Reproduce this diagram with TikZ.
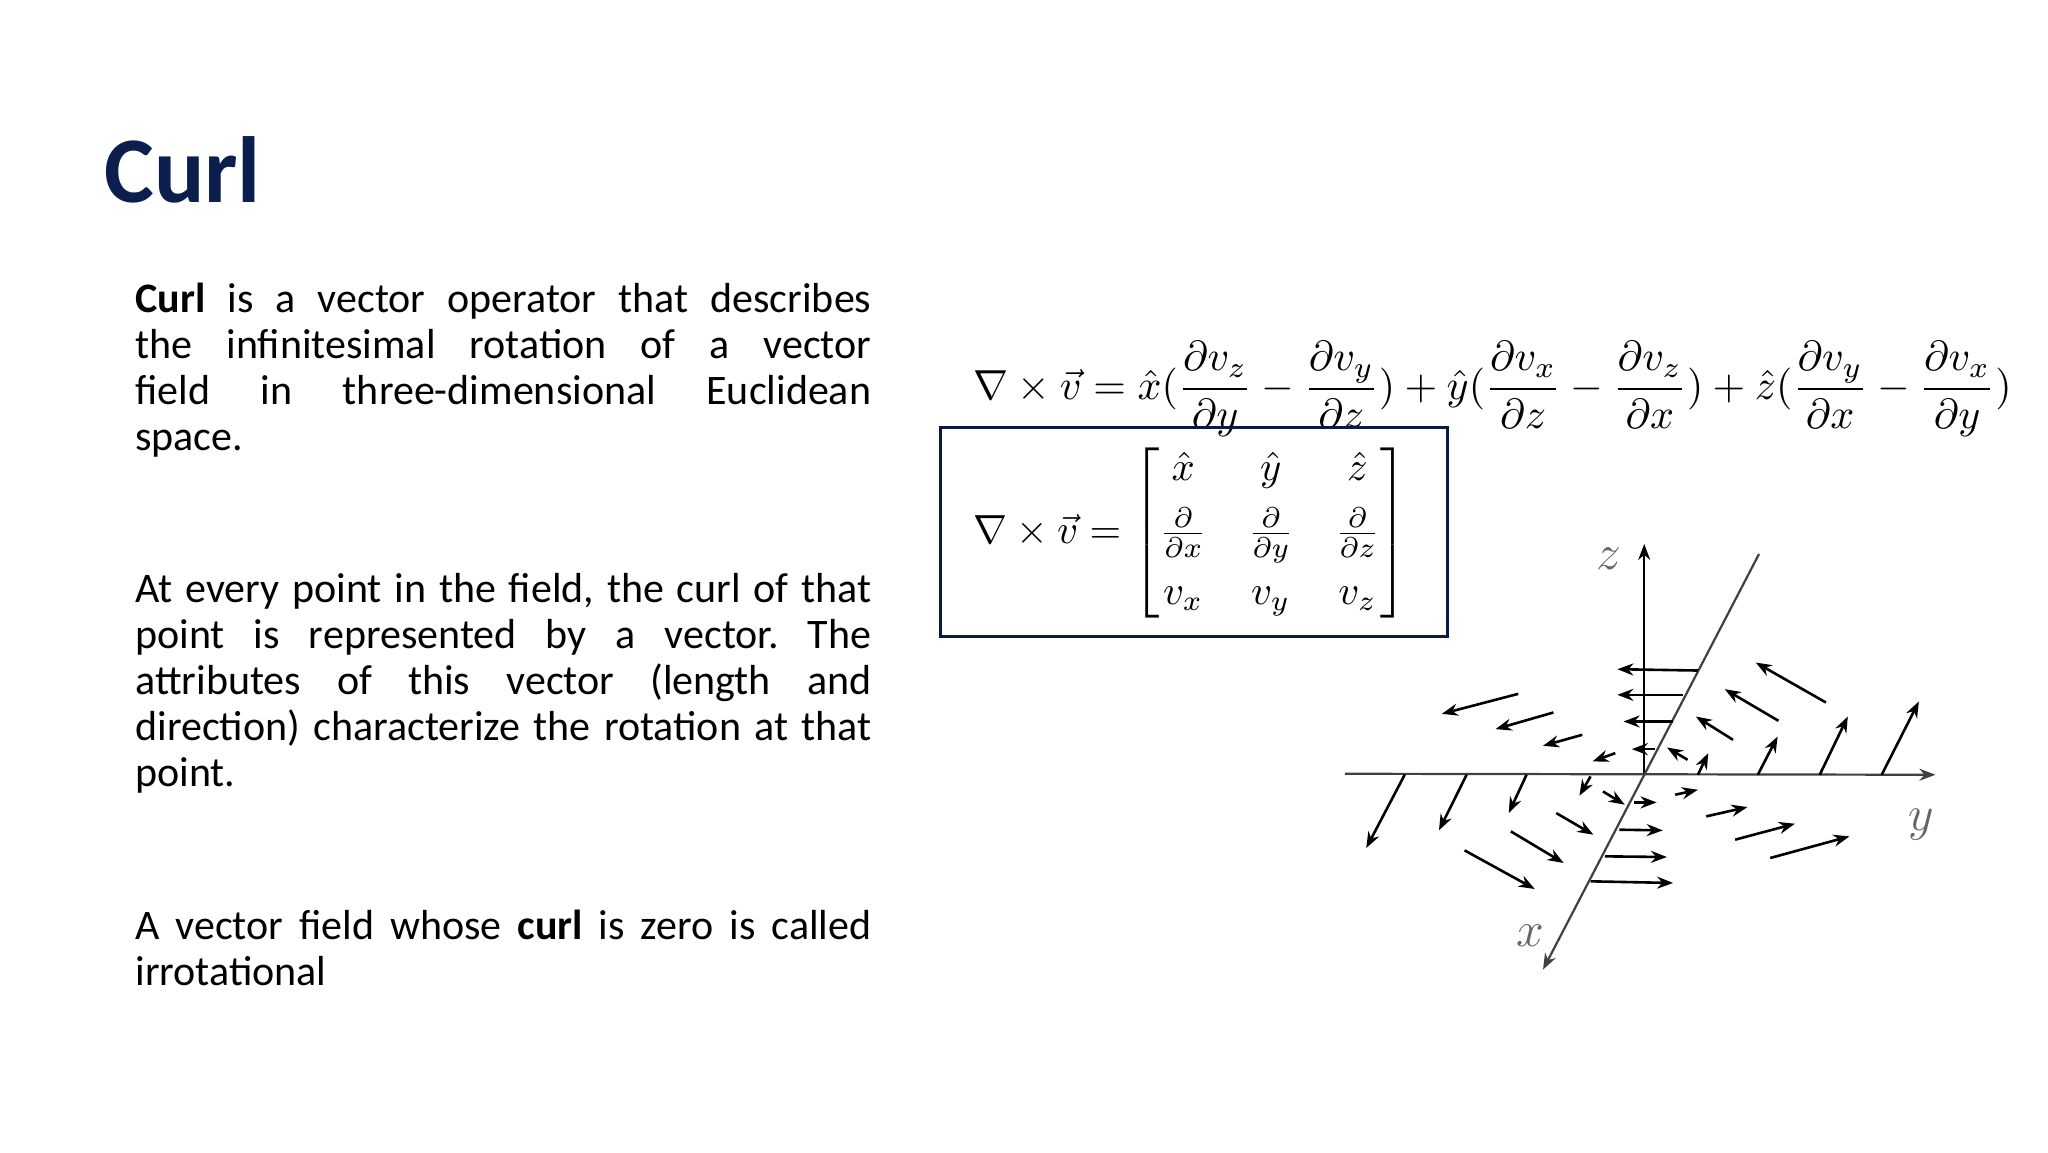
\documentclass[tikz,border=0pt]{standalone}
\usepackage{fontspec}
\usepackage{amsmath,graphicx}
\setmainfont{Carlito}
\usetikzlibrary{arrows.meta}
\definecolor{navy}{HTML}{0C1E4E}
\definecolor{boxc}{HTML}{0A1A40}
\newcommand\nohy{\frenchspacing\hyphenpenalty=10000 \exhyphenpenalty=10000\relax}
\tikzset{
  para/.style={anchor=north west,inner sep=0pt,text width=368pt,align=justify,font=\fontsize{21pt}{23pt}\selectfont},
  fa/.style={line width=1.3pt,-{Stealth[length=8pt,width=6pt]}},
  ax/.style={line width=1.1pt,draw=black!75},
  lab/.style={text=black!60,font=\fontsize{24pt}{24pt}\selectfont}
}
\begin{document}
\begin{tikzpicture}[x=0.5pt,y=-0.5pt]
\useasboundingbox (0,0) rectangle (2048,1152);
\fill[white] (0,0) rectangle (2048,1152);
\node[anchor=base west,inner sep=0pt,text=navy,font=\fontsize{47pt}{47pt}\selectfont\bfseries] (title) at (104,202) {Curl};
\node[para] (p1) at (135,283) {\nohy\textbf{Curl} is a vector operator that describes\linebreak the infinitesimal rotation of a vector\linebreak field in three-dimensional Euclidean\linebreak space.};
\node[para] (p2) at (135,573) {\nohy At every point in the field, the curl of that\linebreak point is represented by a vector. The\linebreak attributes of this vector (length and\linebreak direction) characterize the rotation at that\linebreak point.};
\node[para] (p3) at (135,910) {\nohy A vector field whose \textbf{curl} is zero is called\linebreak irrotational};
\node[anchor=west,inner sep=0pt] (eq1) at (973,389) {\resizebox{519pt}{!}{$\nabla\times\vec v=\hat x(\dfrac{\partial v_z}{\partial y}-\dfrac{\partial v_y}{\partial z})+\hat y(\dfrac{\partial v_x}{\partial z}-\dfrac{\partial v_z}{\partial x})+\hat z(\dfrac{\partial v_y}{\partial x}-\dfrac{\partial v_x}{\partial y})$}};
\draw[boxc,line width=1.5pt] (940,427) rectangle (1447,636);
\node[anchor=west,inner sep=0pt] (eq2) at (973,533) {\resizebox{217pt}{!}{$\nabla\times\vec v=\begin{bmatrix}\hat x&\hat y&\hat z\\[3pt] \frac{\partial}{\partial x}&\frac{\partial}{\partial y}&\frac{\partial}{\partial z}\\[3pt] v_x&v_y&v_z\end{bmatrix}$}};
\begin{scope}[shift={(1320,520)},x=0.2065pt,y=-0.1665pt]
 \draw[ax,-{Stealth[length=8pt,width=6pt]}] (60,762) -- (1490,765);
 \draw[ax,black,-{Stealth[length=8pt,width=6pt]}] (785,770) -- (785,72);
 \draw[ax,-{Stealth[length=8pt,width=6pt]}] (1063,102) -- (540,1350);
 \node[lab] (lz) at (700,115) {$z$};
 \node[lab] (ly) at (1455,915) {$y$};
 \node[lab] (lx) at (510,1250) {$x$};
 \foreach \a/\b/\c/\d in {480/522/295/582, 565/578/425/628, 635/645/540/678, 715/700/660/725,
   915/452/720/448, 880/525/720/525, 855/605/735/605, 810/688/755/688,
   1225/548/1055/428, 1110/603/980/508, 1000/660/910/590, 890/720/840/683,
   915/765/940/700, 1060/765/1108/650, 1210/765/1278/590, 1360/765/1450/545,
   205/765/112/985, 355/765/288/932, 500/765/457/880, 655/770/628/828,
   350/992/520/1108, 462/935/590/1030, 572/880/662/945, 685/815/738/855,
   760/848/815/848, 725/930/830/932, 690/1010/840/1012, 655/1085/855/1090,
   860/825/915/810, 935/890/1035/862, 1005/960/1150/912, 1090/1015/1282/950}
   \draw[fa] (\a,\b) -- (\c,\d);
\end{scope}
\end{tikzpicture}
\end{document}
